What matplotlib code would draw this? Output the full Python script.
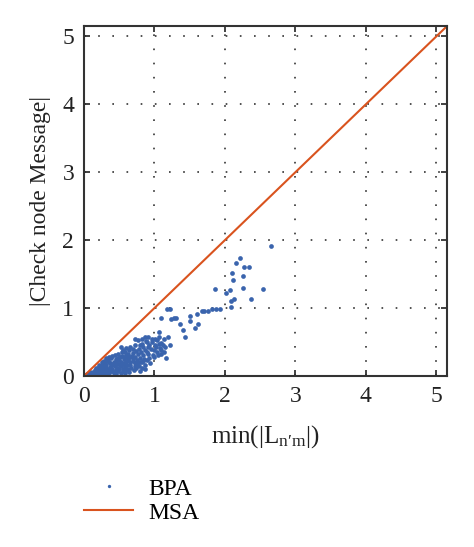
import matplotlib
matplotlib.use("Agg")
import matplotlib.pyplot as plt
from matplotlib.lines import Line2D

plt.rcParams['font.family'] = ['Liberation Serif', 'DejaVu Serif']
plt.rcParams['mathtext.fontset'] = 'custom'
plt.rcParams['mathtext.rm'] = 'Liberation Serif'
plt.rcParams['mathtext.it'] = 'Liberation Serif:italic'

# BPA scatter data (min|L_n'm|, |check node message|)
bpa_x = [
    2.66, 2.22, 2.16, 2.34, 2.27, 2.10, 2.11, 2.25, 1.86, 2.07, 2.26, 2.54, 2.01, 2.13,
    2.08, 2.37, 2.09, 1.93, 1.87, 1.81, 1.76, 1.70, 1.68, 1.60, 1.51, 1.50, 1.62, 1.57,
    1.36, 1.41, 1.43, 1.31, 1.28, 1.23, 1.18, 1.22, 1.10, 1.06, 1.19, 1.22, 1.17,
    0.72, 0.77, 0.82, 0.86, 0.91, 0.89, 0.96, 1.01, 1.03, 1.07, 1.10, 1.08, 1.12, 1.01,
    0.91, 0.84, 0.79, 0.72, 0.65, 0.60, 0.56, 0.53, 0.58, 0.63, 0.70, 0.77, 0.84, 0.91,
    0.98, 1.05, 1.10, 0.89, 0.82, 0.87, 0.94, 0.75, 0.70, 0.65, 0.58, 0.51, 0.49, 0.44,
    0.39, 0.42, 0.46, 0.53, 0.60, 0.65, 0.72, 0.51, 0.44, 0.37, 0.32, 0.35, 0.28, 0.23,
    0.20, 0.16, 0.13, 0.08, 0.25, 0.30, 0.39, 0.46, 0.56, 0.60, 0.42, 0.32, 0.23, 0.19,
    0.11, 0.06,
    0.30, 0.34, 0.38, 0.40, 0.45, 0.48, 0.50, 0.54, 0.55, 0.57, 0.60, 0.62, 0.64, 0.66,
    0.68, 0.70, 0.73, 0.74, 0.76, 0.78, 0.80, 0.81, 0.83, 0.85, 0.86, 0.88, 0.90, 0.92,
    0.93, 0.95, 0.97, 0.99, 1.00, 1.02, 1.04, 1.06, 1.09, 1.13, 1.15, 1.14,
    0.15, 0.18, 0.21, 0.22, 0.24, 0.26, 0.27, 0.29, 0.31, 0.33, 0.34, 0.36, 0.37, 0.38,
    0.40, 0.41, 0.43, 0.44, 0.45, 0.47, 0.48, 0.49, 0.50, 0.52, 0.53, 0.54, 0.55, 0.57,
    0.58, 0.59, 0.61, 0.62, 0.63, 0.64, 0.67, 0.69, 0.71, 0.72, 0.74, 0.76, 0.78, 0.79,
    0.80, 0.82, 0.84, 0.86,
    0.03, 0.05, 0.07, 0.09, 0.10, 0.12, 0.14, 0.04, 0.02, 0.17, 0.19, 0.21, 0.25, 0.27,
    0.29, 0.33, 0.35, 0.36, 0.26, 0.31,
]
bpa_y = [
    1.92, 1.73, 1.66, 1.60, 1.60, 1.52, 1.42, 1.47, 1.28, 1.27, 1.30, 1.28, 1.22, 1.14,
    1.10, 1.14, 1.02, 0.98, 0.98, 0.98, 0.95, 0.96, 0.96, 0.91, 0.88, 0.81, 0.77, 0.70,
    0.76, 0.68, 0.58, 0.86, 0.85, 0.84, 0.99, 0.99, 0.86, 0.65, 0.58, 0.46, 0.26,
    0.55, 0.53, 0.55, 0.58, 0.58, 0.50, 0.50, 0.55, 0.53, 0.58, 0.48, 0.41, 0.46, 0.46,
    0.43, 0.43, 0.46, 0.46, 0.43, 0.41, 0.38, 0.42, 0.36, 0.33, 0.34, 0.33, 0.31, 0.33,
    0.31, 0.31, 0.32, 0.24, 0.21, 0.16, 0.19, 0.21, 0.26, 0.28, 0.28, 0.28, 0.33, 0.31,
    0.26, 0.21, 0.21, 0.21, 0.21, 0.16, 0.14, 0.16, 0.14, 0.19, 0.16, 0.11, 0.14, 0.11,
    0.09, 0.09, 0.06, 0.06, 0.06, 0.09, 0.09, 0.09, 0.11, 0.09, 0.04, 0.04, 0.03, 0.02,
    0.02, 0.01,
    0.20, 0.22, 0.15, 0.30, 0.25, 0.18, 0.24, 0.30, 0.17, 0.25, 0.31, 0.24, 0.38, 0.20,
    0.30, 0.40, 0.28, 0.37, 0.18, 0.40, 0.27, 0.36, 0.47, 0.25, 0.38, 0.52, 0.36, 0.26,
    0.45, 0.40, 0.55, 0.38, 0.28, 0.42, 0.36, 0.47, 0.38, 0.55, 0.42, 0.35,
    0.04, 0.06, 0.05, 0.13, 0.08, 0.10, 0.03, 0.06, 0.12, 0.07, 0.02, 0.05, 0.13, 0.07,
    0.11, 0.17, 0.06, 0.19, 0.03, 0.12, 0.07, 0.27, 0.11, 0.05, 0.14, 0.36, 0.08, 0.19,
    0.13, 0.04, 0.16, 0.11, 0.27, 0.06, 0.12, 0.22, 0.09, 0.19, 0.12, 0.24, 0.15, 0.08,
    0.20, 0.12, 0.22, 0.10,
    0.01, 0.03, 0.02, 0.04, 0.01, 0.05, 0.03, 0.02, 0.01, 0.12, 0.10, 0.16, 0.15, 0.18,
    0.22, 0.25, 0.28, 0.20, 0.20, 0.27,
]

# MSA reference line
msa_x = [0.0, 5.15]
msa_y = [0.0, 5.15]

ticks = [0, 1, 2, 3, 4, 5]
tick_labels = ['0', '1', '2', '3', '4', '5']

fig = plt.figure(figsize=(4.74, 5.47), dpi=100)
ax = fig.add_axes([0.177, 0.3126, 0.766, 0.6396])

ax.plot(bpa_x, bpa_y, linestyle='none', marker='o', markersize=3.4,
        color='#3a64ad', markeredgewidth=0, label='BPA')
ax.plot(msa_x, msa_y, color='#d9531e', linewidth=1.5, label='MSA')

ax.set_xlim(0, 5.15)
ax.set_ylim(0, 5.15)
ax.set_xticks(ticks)
ax.set_xticklabels(tick_labels)
ax.set_yticks(ticks)
ax.set_yticklabels(tick_labels)
ax.tick_params(direction='in', top=True, right=True, length=4, width=1.2,
               labelsize=17, colors='#222222', pad=7)
for s in ax.spines.values():
    s.set_linewidth(1.5)
    s.set_color('#333333')
ax.grid(True, color='#333333', linestyle=(0, (1, 7.5)), linewidth=1.2)
ax.set_axisbelow(True)

ax.set_xlabel(r"min($|\mathrm{L}_{\mathrm{n\prime m}}|$)", fontsize=18, labelpad=12, color='#222222')
ax.set_ylabel('|Check node Message|', fontsize=17, labelpad=8, color='#222222')

handles = [Line2D([], [], linestyle='none', marker='o', markersize=2.4, color='#3a64ad', markeredgewidth=0),
           Line2D([], [], color='#d9531e', linewidth=1.5)]
fig.legend(handles, ['BPA', 'MSA'], loc='upper left', bbox_to_anchor=(0.157, 0.143),
           frameon=False, fontsize=17, handlelength=2.1, handletextpad=0.65,
           labelspacing=0.1, borderaxespad=0)

fig.savefig('out.png', dpi=100, facecolor='white')
